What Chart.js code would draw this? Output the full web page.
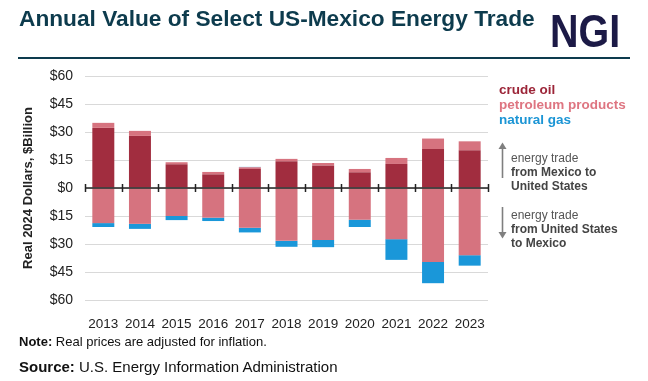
<!DOCTYPE html>
<html>
<head>
<meta charset="utf-8">
<script src="https://cdn.jsdelivr.net/npm/chart.js@4"></script>
<style>
  html, body { margin:0; padding:0; background:#fff; }
  body { width:648px; height:381px; position:relative; overflow:hidden; font-family:"Liberation Sans", Arial, sans-serif; }
  #c { position:absolute; left:0; top:0; }
  .t { position:absolute; white-space:nowrap; line-height:1; }
</style>
</head>
<body>
<canvas id="c" width="648" height="381"></canvas>

<div class="t" id="title" style="left:19px;top:7px;font-size:22.7px;font-weight:bold;color:#0d3b4d;">Annual Value of Select US-Mexico Energy Trade</div>
<div class="t" id="logo" style="left:550px;top:7px;font-size:47px;font-weight:bold;color:#1c1a46;transform:scaleX(0.84);transform-origin:left top;">NGI</div>
<div style="position:absolute;left:18px;top:57px;width:612px;height:2px;background:#0d3b4d;"></div>

<div class="t" id="ytitle" style="left:27px;top:188px;font-size:13px;font-weight:bold;color:#222;transform:translate(-50%,-50%) rotate(-90deg);">Real 2024 Dollars, $Billion</div>

<div id="legend"></div>

<svg style="position:absolute;left:0;top:0;" width="648" height="381">
  <line x1="502.5" y1="178" x2="502.5" y2="148" stroke="#7f7f7f" stroke-width="1.6"/>
  <polygon points="498.5,149 506.5,149 502.5,142.5" fill="#7f7f7f"/>
  <line x1="502.5" y1="207" x2="502.5" y2="233" stroke="#7f7f7f" stroke-width="1.6"/>
  <polygon points="498.5,232 506.5,232 502.5,238.5" fill="#7f7f7f"/>
</svg>
<div class="t" style="left:511px;top:152px;font-size:12px;color:#555;">energy trade</div>
<div class="t" style="left:511px;top:166px;font-size:12px;font-weight:bold;color:#444;">from Mexico to</div>
<div class="t" style="left:511px;top:180px;font-size:12px;font-weight:bold;color:#444;">United States</div>
<div class="t" style="left:511px;top:209px;font-size:12px;color:#555;">energy trade</div>
<div class="t" style="left:511px;top:223px;font-size:12px;font-weight:bold;color:#444;">from United States</div>
<div class="t" style="left:511px;top:237px;font-size:12px;font-weight:bold;color:#444;">to Mexico</div>

<div class="t" style="left:19px;top:335px;font-size:13px;color:#111;"><b>Note:</b> Real prices are adjusted for inflation.</div>
<div class="t" style="left:19px;top:359px;font-size:15px;color:#111;"><b>Source:</b> U.S. Energy Information Administration</div>

<script>
// ---- data ($ billion, real 2024 dollars) ----
const years = ['2013','2014','2015','2016','2017','2018','2019','2020','2021','2022','2023'];
// trade from Mexico to United States (positive)
const crudeFromMexico    = [32.2, 27.9, 12.7, 7.3, 10.2, 14.3, 12.0, 8.4, 12.9, 20.9, 20.2];
const productsFromMexico = [2.7, 2.7, 1.1, 1.3, 0.9, 1.3, 1.4, 1.8, 3.2, 5.6, 4.8];
const gasFromMexico      = [0, 0, 0, 0, 0.2, 0, 0, 0, 0, 0, 0];
// trade from United States to Mexico (negative)
const productsToMexico   = [-18.8, -19.2, -15.0, -15.9, -21.3, -28.3, -27.8, -17.0, -27.4, -39.6, -36.0];
const gasToMexico        = [-2.1, -2.7, -2.2, -1.8, -2.5, -3.2, -3.9, -3.9, -11.1, -11.4, -5.6];
// axis ticks
const yTicks = [-60, -45, -30, -15, 0, 15, 30, 45, 60];
// series legend
const seriesNames = ['crude oil', 'petroleum products', 'natural gas'];
const seriesColors = ['#a12d3f', '#d6737f', '#1a97d9'];
const legendTextColors = ['#9c2538', '#de7581', '#1b95d5'];

// legend (HTML)
const legendTops = [83, 98, 113];
const lg = document.getElementById('legend');
seriesNames.forEach((n, i) => {
  const d = document.createElement('div');
  d.className = 't';
  d.style.cssText = `left:499px;top:${legendTops[i]}px;font-size:13.5px;font-weight:bold;color:${legendTextColors[i]};`;
  d.textContent = n;
  lg.appendChild(d);
});

const zeroLine = {
  id: 'zeroLine',
  afterDatasetsDraw(chart) {
    const { ctx, chartArea, scales } = chart;
    const y0 = scales.y.getPixelForValue(0);
    const n = years.length;
    const step = (chartArea.right - chartArea.left) / n;
    ctx.save();
    ctx.strokeStyle = '#222';
    ctx.lineWidth = 1.5;
    ctx.beginPath();
    ctx.moveTo(chartArea.left, y0);
    ctx.lineTo(chartArea.right, y0);
    for (let i = 0; i <= n; i++) {
      const x = Math.round(chartArea.left + i * step) + 0.5;
      ctx.moveTo(x, y0 - 4);
      ctx.lineTo(x, y0 + 4);
    }
    ctx.stroke();
    ctx.restore();
  }
};

const mk = (label, data, color) => ({
  label, data, backgroundColor: color, borderWidth: 0, stack: 's',
  barPercentage: 0.6, categoryPercentage: 1.0
});

new Chart(document.getElementById('c'), {
  type: 'bar',
  data: {
    labels: years,
    datasets: [
      mk(seriesNames[0], crudeFromMexico, seriesColors[0]),
      mk(seriesNames[1], productsFromMexico, seriesColors[1]),
      mk(seriesNames[2], gasFromMexico, seriesColors[2]),
      mk(seriesNames[1] + ' (to Mexico)', productsToMexico, seriesColors[1]),
      mk(seriesNames[2] + ' (to Mexico)', gasToMexico, seriesColors[2])
    ]
  },
  options: {
    responsive: false,
    animation: false,
    devicePixelRatio: 1,
    layout: { padding: { left: 0, right: 160, top: 76, bottom: 51 } },
    plugins: { legend: { display: false }, tooltip: { enabled: false } },
    scales: {
      x: {
        stacked: true,
        grid: { display: false },
        border: { display: false },
        ticks: { font: { family: 'Liberation Sans', size: 13.5 }, color: '#222', padding: 8, maxRotation: 0 },
        afterFit(s) { s.height = 30; }
      },
      y: {
        stacked: true,
        min: yTicks[0], max: yTicks[yTicks.length - 1],
        afterBuildTicks(s) { s.ticks = yTicks.map(v => ({ value: v })); },
        grid: { color: '#d9d9d9', lineWidth: 1, drawTicks: false },
        border: { display: false },
        ticks: {
          font: { family: 'Liberation Sans', size: 14 }, color: '#222', padding: 12,
          callback: v => '$' + Math.abs(v)
        },
        afterFit(s) { s.width = 85; }
      }
    }
  },
  plugins: [zeroLine]
});
</script>
</body>
</html>
